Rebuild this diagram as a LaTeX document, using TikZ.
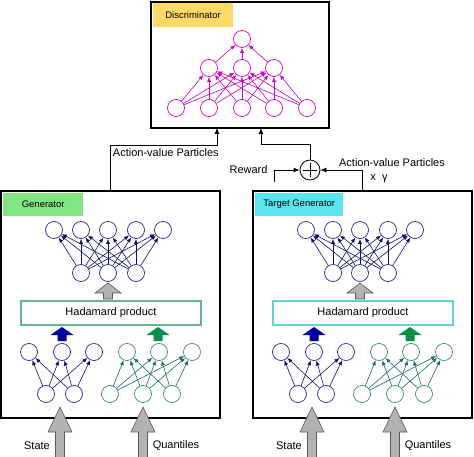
\documentclass[tikz,border=0pt]{standalone}
\usepackage{fontspec}
\setmainfont{Liberation Sans}
\usetikzlibrary{arrows.meta}
\usetikzlibrary{positioning}
\definecolor{discmag}{RGB}{204,0,204}
\definecolor{stateblue}{RGB}{35,35,160}
\definecolor{stateedge}{RGB}{15,15,100}
\definecolor{quantteal}{RGB}{55,135,120}
\definecolor{quantedge}{RGB}{30,105,105}
\definecolor{discyellow}{RGB}{255,217,102}
\definecolor{genlabel}{RGB}{130,230,130}
\definecolor{tgtlabel}{RGB}{90,230,240}
\definecolor{hadgreen}{RGB}{100,180,140}
\definecolor{hadcyan}{RGB}{100,210,215}
\definecolor{fatblue}{RGB}{0,0,160}
\definecolor{fatgreen}{RGB}{0,145,70}
\tikzstyle{neuron}=[circle,draw,minimum size=17pt,inner sep=0pt,line width=0.7pt]
\tikzstyle{netedge}=[draw,line width=0.6pt,-{Latex[length=5pt,width=4pt]}]
\tikzstyle{panel}=[draw,line width=1.4pt]
\tikzstyle{tag}=[inner sep=0pt,font=\fontsize{9.5}{11}\selectfont]
\tikzstyle{link}=[draw,line width=0.8pt,-{Latex[length=6pt,width=5pt]}]
\tikzstyle{caption}=[font=\fontsize{11}{13}\selectfont]
\tikzstyle{fatgray}=[fill=black!30,draw=black!65,line width=0.6pt]
% fat upward arrow: [style]{x}{tip y}{bottom y}{head length}{head half width}{shaft half width}
\newcommand{\fatup}[7][]{\path[#1] ({#2},{#3}) -- ({#2+#6},{#3+#5}) -- ({#2+#7},{#3+#5}) -- ({#2+#7},{#4}) -- ({#2-#7},{#4}) -- ({#2-#7},{#3+#5}) -- ({#2-#6},{#3+#5}) -- cycle;}

\begin{document}
\begin{tikzpicture}[x=1pt,y=-1pt]
    \useasboundingbox (0,0) rectangle (474,457);
    % Discriminator
    \node[panel,minimum width=178pt,minimum height=126pt] (disc) at (240,65) {};
    \node[tag,fill=discyellow,minimum width=80pt,minimum height=24pt] (disctag) at (193,15) {Discriminator};
    \foreach \pos/\name in {{(242,39)/d0}, {(209,68)/dm1}, {(242,68)/dm2}, {(274,68)/dm3},
        {(176,108)/db1}, {(209,108)/db2}, {(242,108)/db3}, {(274,108)/db4}, {(307,108)/db5}}
        \node[neuron,draw=discmag] (\name) at \pos {};
    \foreach \i in {1,...,5}
        \foreach \j in {1,...,3}
            \path[netedge,draw=discmag] (db\i) -- (dm\j);
    \foreach \j in {1,...,3}
        \path[netedge,draw=discmag] (dm\j) -- (d0);

    % Generator and Target Generator
    \foreach \dx/\p/\tagname/\tagw/\tagcol/\hadcol in {0/g/Generator/80/genlabel/hadgreen, 252/t/Target Generator/88/tgtlabel/hadcyan}{
        \node[panel,minimum width=219pt,minimum height=227pt] (\p box) at ({\dx+110.5},304.5) {};
        \node[tag,fill=\tagcol,minimum width=\tagw pt,minimum height=23pt,anchor=west] (\p tag) at ({\dx+3},204.5) {\tagname};
        % output net
        \foreach \i/\x in {1/54,2/81,3/108,4/136,5/163}
            \node[neuron,draw=stateblue] (\p t\i) at ({\dx+\x},230) {};
        \foreach \i/\x in {1/81,2/108,3/136}
            \node[neuron,draw=stateblue] (\p m\i) at ({\dx+\x},273) {};
        \foreach \i in {1,...,3}
            \foreach \j in {1,...,5}
                \path[netedge,draw=stateedge] (\p m\i) -- (\p t\j);
        \fatup[fatgray]{\dx+108}{283}{299}{10}{13}{4.5}
        \node[draw=\hadcol,line width=1.2pt,minimum width=180pt,minimum height=24pt,caption] (\p had) at ({\dx+111},313) {Hadamard product};
        \fatup[fill=fatblue]{\dx+62}{327}{341}{8}{11.5}{4.5}
        \fatup[fill=fatgreen]{\dx+158}{327}{341}{8}{11.5}{4.5}
        % state net
        \foreach \i/\x in {1/29,2/62,3/94}
            \node[neuron,draw=stateblue] (\p su\i) at ({\dx+\x},352) {};
        \foreach \i/\x in {1/46,2/74}
            \node[neuron,draw=stateblue] (\p sl\i) at ({\dx+\x},394) {};
        \foreach \i in {1,2}
            \foreach \j in {1,...,3}
                \path[netedge,draw=stateedge] (\p sl\i) -- (\p su\j);
        % quantile net
        \foreach \i/\x in {1/127,2/159,3/192}
            \node[neuron,draw=quantteal] (\p qu\i) at ({\dx+\x},352) {};
        \foreach \i/\x in {1/110,2/143,3/172}
            \node[neuron,draw=quantteal] (\p ql\i) at ({\dx+\x},394) {};
        \foreach \i in {1,...,3}
            \foreach \j in {1,...,3}
                \path[netedge,draw=quantedge] (\p ql\i) -- (\p qu\j);
        % inputs
        \fatup[fatgray]{\dx+60}{407}{458}{25}{12}{4.5}
        \fatup[fatgray]{\dx+143}{407}{458}{25}{12}{4.5}
        \node[caption] (\p state) at ({\dx+37},446) {State};
        \node[caption] (\p quant) at ({\dx+176},446) {Quantiles};
    }

    % Connections to the discriminator
    \coordinate (din1) at (217,128);
    \coordinate (din2) at (261,128);
    \node[circle,draw,line width=0.8pt,minimum size=20pt,inner sep=0pt] (op) at (310,170) {};
    \draw[line width=0.8pt,shorten <=3.5pt,shorten >=3.5pt] (op.north) -- (op.south);
    \draw[line width=0.8pt,shorten <=3.5pt,shorten >=3.5pt] (op.west) -- (op.east);
    \path[link] (gbox.north) |- ([yshift=-17pt]din1) node[caption,below,pos=0.76] {Action-value Particles} -- (din1);
    \path[link] (op.north) |- ([yshift=-16pt]din2) -- (din2);
    \coordinate (rw) at (274,182);
    \path[link] (rw) |- (op.west);
    \node[caption,anchor=east] (rwlabel) at (271,170) {Reward};
    \path[link] (tbox.north) |- (op.east);
    \node[caption] (avlabel) at (392,163) {Action-value Particles};
    \node[caption] (gamma) at (379,179) {x\ \ γ};
\end{tikzpicture}
\end{document}
